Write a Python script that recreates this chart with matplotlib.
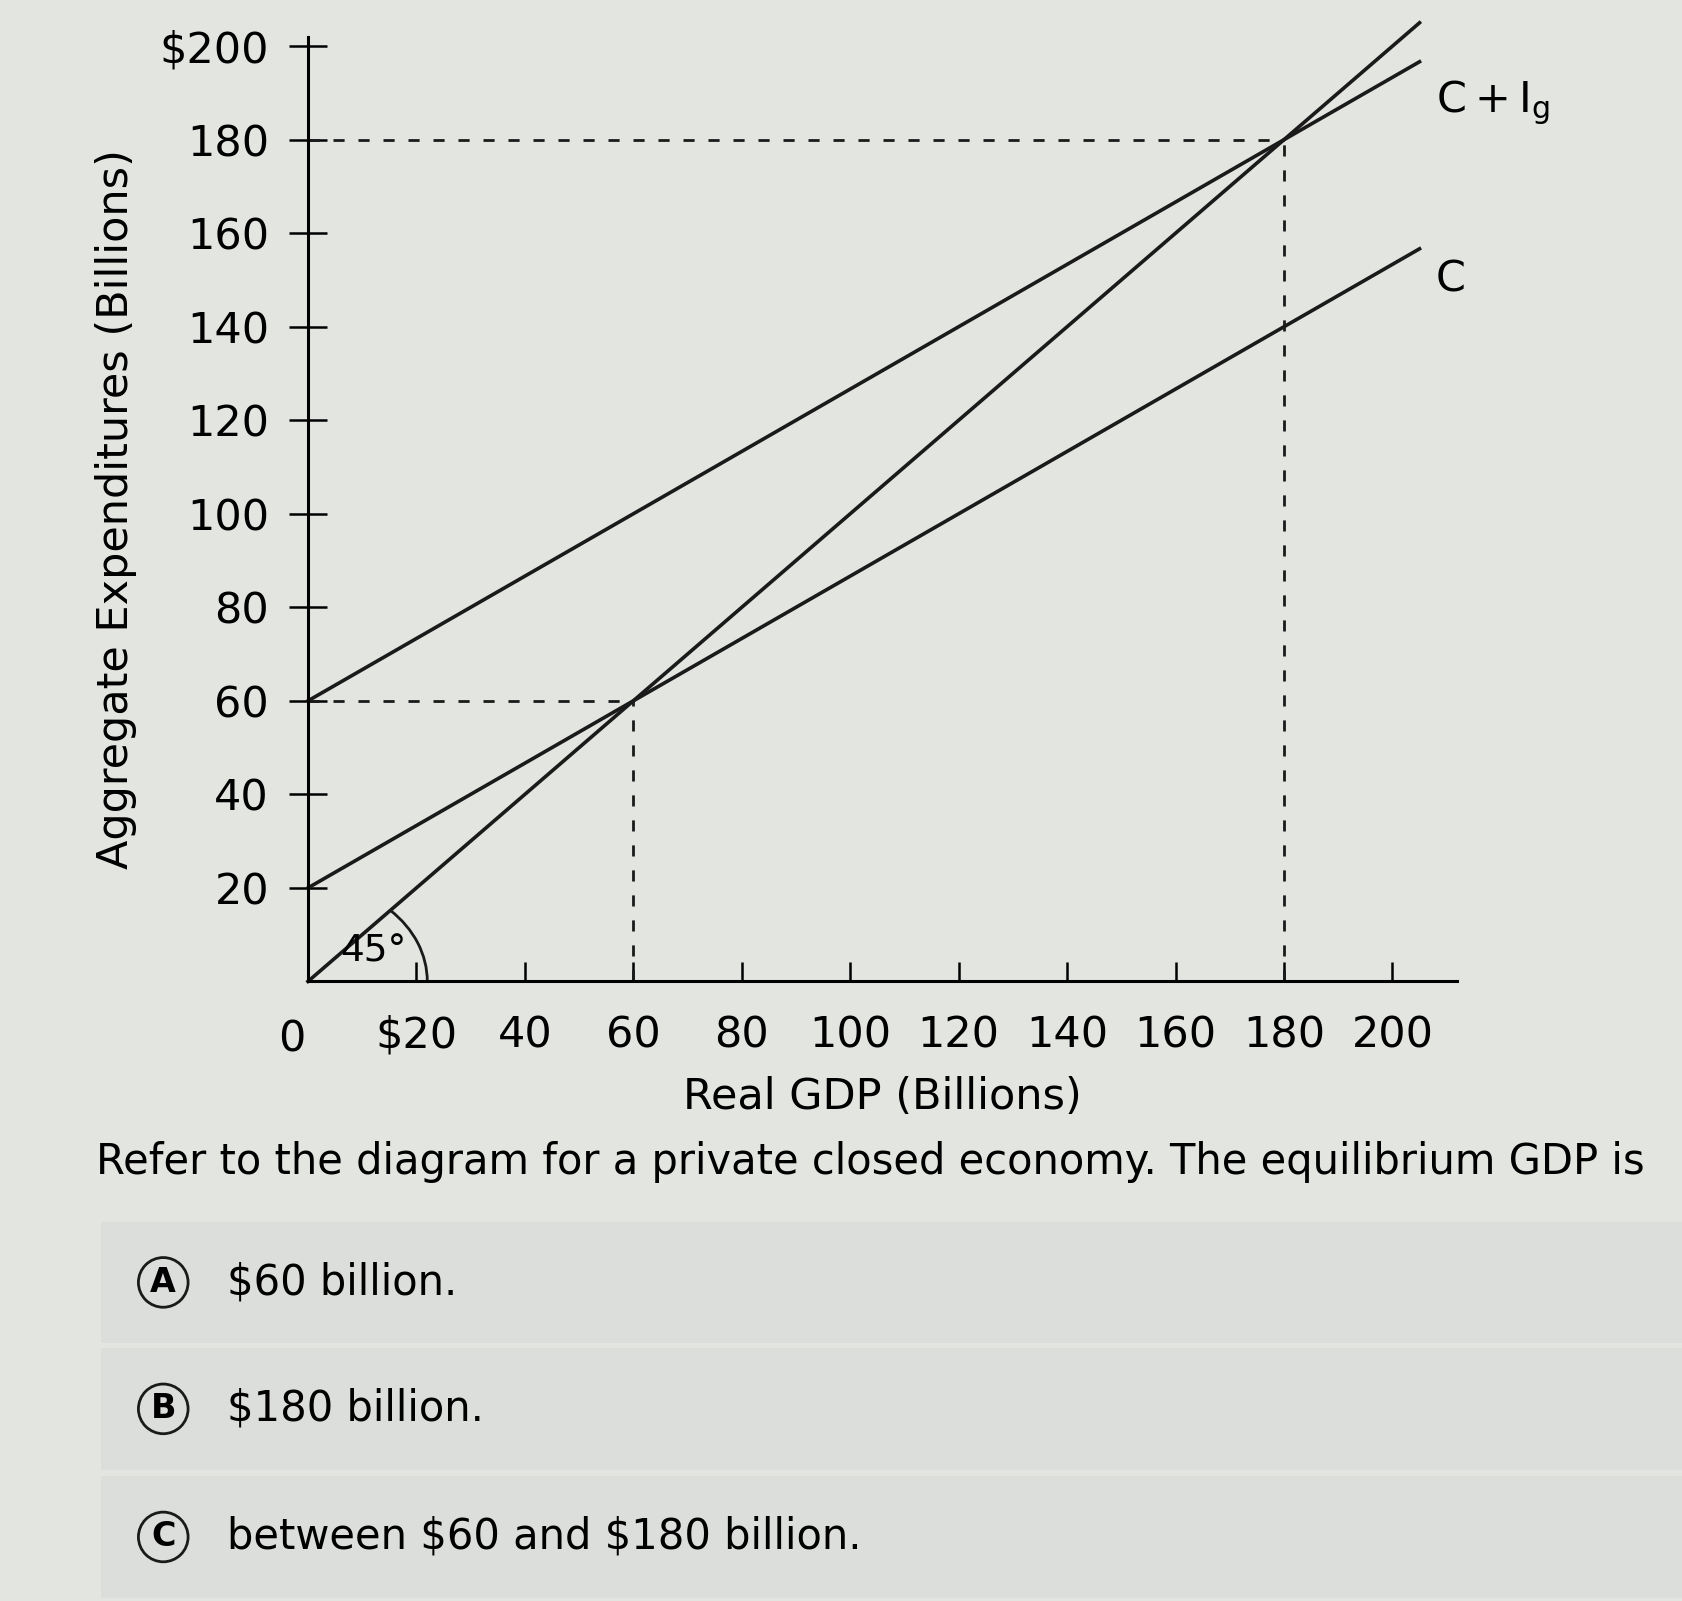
import matplotlib
matplotlib.use("Agg")
import matplotlib.pyplot as plt
import numpy as np
from matplotlib.patches import Arc, Rectangle, Circle

x_ticks = [20, 40, 60, 80, 100, 120, 140, 160, 180, 200]
x_labels = ["$20", "40", "60", "80", "100", "120", "140", "160", "180", "200"]
y_ticks = [20, 40, 60, 80, 100, 120, 140, 160, 180, 200]
y_labels = ["20", "40", "60", "80", "100", "120", "140", "160", "180", "$200"]
c_x = [0, 205]; c_y = [20, 20 + 205 * 2 / 3]
cig_x = [0, 205]; cig_y = [60, 60 + 205 * 2 / 3]
deg_x = [0, 205]; deg_y = [0, 205]
options = [("A", "$60 billion."), ("B", "$180 billion."), ("C", "between \\$60 and \\$180 billion.")]

bg = "#e3e5e1"
fig = plt.figure(figsize=(16.83, 16.01), dpi=100, facecolor=bg)
ax = fig.add_axes([0.183, 0.387, 0.683, 0.59])
ax.set_facecolor(bg)
ax.set_xlim(0, 212); ax.set_ylim(0, 202)
for s in ["top", "right"]:
    ax.spines[s].set_visible(False)
for s in ["left", "bottom"]:
    ax.spines[s].set_linewidth(2.2)
ax.set_xticks(x_ticks); ax.set_xticklabels(x_labels)
ax.set_yticks(y_ticks); ax.set_yticklabels(y_labels)
ax.tick_params(axis="x", direction="in", length=14, width=1.8, labelsize=31, pad=24)
ax.tick_params(axis="y", direction="inout", length=28, width=1.8, labelsize=31, pad=14)
lw = 2.6
ax.plot(c_x, c_y, color="#1a1a1a", lw=lw, clip_on=False)
ax.plot(cig_x, cig_y, color="#1a1a1a", lw=lw, clip_on=False)
ax.plot(deg_x, deg_y, color="#1a1a1a", lw=lw, clip_on=False)
dash = dict(color="#1a1a1a", lw=2, ls=(0, (4, 5)))
ax.plot([0, 60], [60, 60], **dash); ax.plot([60, 60], [0, 60], **dash)
ax.plot([0, 180], [180, 180], **dash); ax.plot([180, 180], [0, 180], **dash)
ax.text(208, 188, r"$\mathsf{C + I_g}$", fontsize=31, ha="left", va="center")
ax.text(208, 150, "C", fontsize=31, ha="left", va="center")
ax.text(12, 2.5, "45°", fontsize=27, ha="center", va="bottom")
ax.add_patch(Arc((0, 0), 44, 42, theta1=0, theta2=45, lw=2, color="#1a1a1a"))
ax.text(-3, -8, "0", fontsize=31, ha="center", va="top")
ax.set_xlabel("Real GDP (Billions)", fontsize=31, labelpad=14)
ax.set_ylabel("Aggregate Expenditures (Billions)", fontsize=31, labelpad=16)

fig.text(0.057, 0.274, "Refer to the diagram for a private closed economy. The equilibrium GDP is",
         fontsize=30, va="center")
ys = [0.199, 0.12, 0.04]
for (letter, txt), y in zip(options, ys):
    fig.patches.append(Rectangle((0.06, y - 0.038), 0.94, 0.076, transform=fig.transFigure,
                                 facecolor="#dcdedb", edgecolor="none", zorder=0))
    fig.text(0.097, y, letter, fontsize=24, fontweight="bold", ha="center", va="center",
             bbox=dict(boxstyle="circle,pad=0.25", facecolor="none", edgecolor="#1a1a1a", lw=2))
    fig.text(0.135, y, txt, fontsize=30, va="center")

fig.savefig("out.png", dpi=100, facecolor=bg)
